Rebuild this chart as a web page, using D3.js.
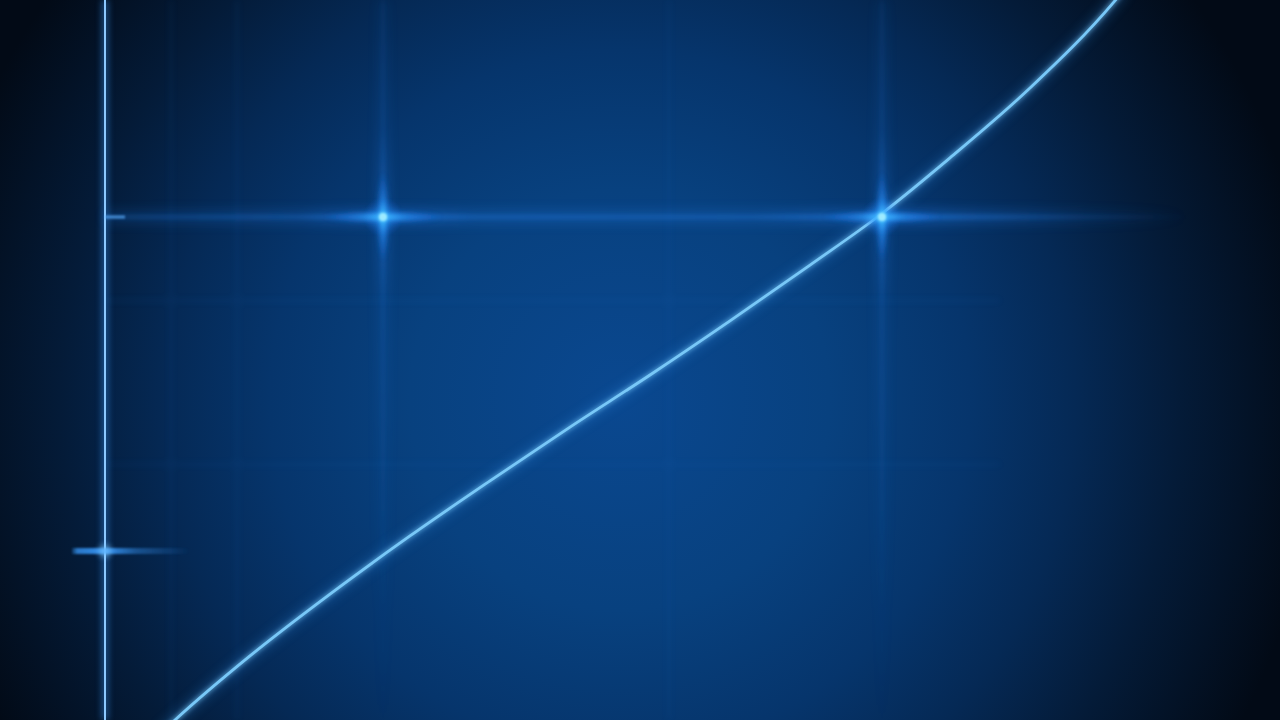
<!DOCTYPE html>
<html><head><meta charset="utf-8">
<script src="https://cdn.jsdelivr.net/npm/d3@7"></script>
<style>html,body{margin:0;padding:0;background:#020a16;overflow:hidden}svg{display:block}</style>
</head><body><svg id="c" width="1280" height="720"></svg>
<script>
// ---- data ----
const curveX = [0.55, 0.70, 1.45, 2.25, 3.05, 3.85, 4.65, 5.45, 6.25, 7.05, 7.75, 8.45, 9.25, 10.09, 10.19];
const curveY = [0.452, 0.494, 0.686, 0.871, 1.045, 1.210, 1.371, 1.527, 1.689, 1.856, 2.006, 2.177, 2.386, 2.644, 2.680];
const levelValues = [1, 2];          // tick levels on the vertical axis
const markerX = [2.78, 7.77];        // vertical reference lines
const markerY = 2;                   // horizontal reference line
const faintGridX = [0.66, 1.32, 5.64];
const faintGridY = [1.26, 1.75];

const W = 1280, H = 720;
const svg = d3.select("#c");
const x = d3.scaleLinear().domain([0, 10]).range([105, 1105]);
const y = d3.scaleLinear().domain([1, 2]).range([551, 217]);

const defs = svg.append("defs");
const bg = defs.append("radialGradient").attr("id", "bg")
  .attr("gradientUnits", "userSpaceOnUse").attr("cx", 620).attr("cy", 400).attr("r", 700);
[[0, "#0a4890"], [0.3, "#08417f"], [0.5, "#06356c"], [0.65, "#052955"], [0.8, "#041b38"], [1, "#020a16"]]
  .forEach(([o, c]) => bg.append("stop").attr("offset", o).attr("stop-color", c));

function blurFilter(id, sd) {
  const f = defs.append("filter").attr("id", id).attr("filterUnits", "userSpaceOnUse")
    .attr("x", -50).attr("y", -50).attr("width", W + 100).attr("height", H + 100);
  f.append("feGaussianBlur").attr("stdDeviation", sd);
}
blurFilter("b1", 1.2); blurFilter("b2", 2); blurFilter("b3", 3); blurFilter("b6", 6); blurFilter("b12", 12);

const glow = defs.append("filter").attr("id", "glow").attr("filterUnits", "userSpaceOnUse")
  .attr("x", -50).attr("y", -50).attr("width", W + 100).attr("height", H + 100);
glow.append("feGaussianBlur").attr("in", "SourceGraphic").attr("stdDeviation", 2.5).attr("result", "bl");
const gm = glow.append("feMerge");
gm.append("feMergeNode").attr("in", "bl");
gm.append("feMergeNode").attr("in", "SourceGraphic");

// horizontal gradient for the reference line
const hg = defs.append("linearGradient").attr("id", "hg").attr("gradientUnits", "userSpaceOnUse")
  .attr("x1", x(0)).attr("x2", 1190).attr("y1", 0).attr("y2", 0);
[[0, 0.35], [0.18, 0.45], [0.26, 1], [0.34, 0.5], [0.6, 0.45], [0.7, 0.8], [0.72, 1], [0.8, 0.6], [0.9, 0.25], [1, 0]]
  .forEach(([o, a]) => hg.append("stop").attr("offset", o).attr("stop-color", "#2a8cff").attr("stop-opacity", a));

const tg = defs.append("linearGradient").attr("id", "tg").attr("gradientUnits", "userSpaceOnUse")
  .attr("x1", 70).attr("x2", 190).attr("y1", 0).attr("y2", 0);
[[0, 0], [0.06, 0.8], [0.3, 1], [0.55, 0.45], [1, 0]]
  .forEach(([o, a]) => tg.append("stop").attr("offset", o).attr("stop-color", "#3a9cff").attr("stop-opacity", a));

const vg = defs.append("linearGradient").attr("id", "vg").attr("gradientUnits", "userSpaceOnUse")
  .attr("x1", 0).attr("x2", 0).attr("y1", 0).attr("y2", H);
[[0, 0.2], [0.18, 0.35], [0.3, 1], [0.42, 0.35], [0.7, 0.18], [0.85, 0.06], [1, 0.02]]
  .forEach(([o, a]) => vg.append("stop").attr("offset", o).attr("stop-color", "#2a8cff").attr("stop-opacity", a));

const fr = defs.append("radialGradient").attr("id", "flare");
[[0, "#d8f8ff", 1], [0.12, "#4fd2ff", 0.95], [0.4, "#2a9cff", 0.5], [1, "#1a70ff", 0]]
  .forEach(([o, c, a]) => fr.append("stop").attr("offset", o).attr("stop-color", c).attr("stop-opacity", a));

// ---- background ----
svg.append("rect").attr("width", W).attr("height", H).attr("fill", "url(#bg)");

// faint grid
const grid = svg.append("g").attr("opacity", 0.1);
grid.selectAll("line.gx").data(faintGridX).join("line")
  .attr("x1", d => x(d)).attr("x2", d => x(d)).attr("y1", 0).attr("y2", H)
  .attr("stroke", "#2a7ad8").attr("stroke-width", 3).attr("filter", "url(#b3)");
grid.selectAll("line.gy").data(faintGridY).join("line")
  .attr("x1", x(0)).attr("x2", 1000).attr("y1", d => y(d)).attr("y2", d => y(d))
  .attr("stroke", "#2a7ad8").attr("stroke-width", 3).attr("filter", "url(#b3)");

// vertical reference lines
const vref = svg.append("g");
vref.selectAll("line.w").data(markerX).join("line")
  .attr("x1", d => x(d)).attr("x2", d => x(d)).attr("y1", 0).attr("y2", H)
  .attr("stroke", "url(#vg)").attr("stroke-width", 12).attr("opacity", 0.3).attr("filter", "url(#b6)");
vref.selectAll("line.n").data(markerX).join("line")
  .attr("x1", d => x(d)).attr("x2", d => x(d)).attr("y1", 0).attr("y2", H)
  .attr("stroke", "url(#vg)").attr("stroke-width", 3).attr("opacity", 0.35).attr("filter", "url(#b2)");

// horizontal reference line
svg.append("line").attr("x1", x(0)).attr("x2", 1190).attr("y1", y(markerY)).attr("y2", y(markerY))
  .attr("stroke", "url(#hg)").attr("stroke-width", 14).attr("opacity", 0.4).attr("filter", "url(#b6)");
svg.append("line").attr("x1", x(0)).attr("x2", 1190).attr("y1", y(markerY)).attr("y2", y(markerY))
  .attr("stroke", "url(#hg)").attr("stroke-width", 4).attr("opacity", 0.5).attr("filter", "url(#b2)");

// ---- vertical axis ----
const axis = svg.append("g");
axis.append("line").attr("x1", x(0)).attr("x2", x(0)).attr("y1", 0).attr("y2", H)
  .attr("stroke", "#3d9bff").attr("stroke-width", 7).attr("opacity", 0.4).attr("filter", "url(#b3)");
axis.append("line").attr("x1", x(0)).attr("x2", x(0)).attr("y1", 0).attr("y2", H)
  .attr("stroke", "#8cc8ff").attr("stroke-width", 2);
// ticks
axis.append("line").attr("x1", 72).attr("x2", 190).attr("y1", y(levelValues[0])).attr("y2", y(levelValues[0]))
  .attr("stroke", "url(#tg)").attr("stroke-width", 6).attr("opacity", 0.9).attr("filter", "url(#b1)");
axis.append("circle").attr("cx", x(0)).attr("cy", y(levelValues[0])).attr("r", 6)
  .attr("fill", "#7cc8ff").attr("opacity", 0.7).attr("filter", "url(#b3)");
axis.append("line").attr("x1", x(0)).attr("x2", x(0) + 20).attr("y1", y(levelValues[1])).attr("y2", y(levelValues[1]))
  .attr("stroke", "#5aaeff").attr("stroke-width", 3).attr("opacity", 0.7).attr("filter", "url(#b1)");

// ---- curve ----
const pts = curveX.map((d, i) => [d, curveY[i]]);
const line = d3.line().x(d => x(d[0])).y(d => y(d[1])).curve(d3.curveMonotoneX);
svg.append("path").datum(pts).attr("d", line).attr("fill", "none")
  .attr("stroke", "#3aa0ff").attr("stroke-width", 12).attr("opacity", 0.22).attr("filter", "url(#b6)");
svg.append("path").datum(pts).attr("d", line).attr("fill", "none")
  .attr("stroke", "#78c8f8").attr("stroke-width", 2.8).attr("filter", "url(#glow)");

// ---- flares ----
const fl = svg.append("g");
markerX.forEach(mx => {
  const cx = x(mx), cy = y(markerY);
  fl.append("ellipse").attr("cx", cx).attr("cy", cy).attr("rx", 60).attr("ry", 7)
    .attr("fill", "url(#flare)").attr("filter", "url(#b2)");
  fl.append("ellipse").attr("cx", cx).attr("cy", cy).attr("rx", 7).attr("ry", 45)
    .attr("fill", "url(#flare)").attr("filter", "url(#b2)");
  fl.append("circle").attr("cx", cx).attr("cy", cy).attr("r", 20)
    .attr("fill", "url(#flare)").attr("opacity", 0.6);
  fl.append("circle").attr("cx", cx).attr("cy", cy).attr("r", 4)
    .attr("fill", "#9eeaff").attr("filter", "url(#b1)");
});
</script>
</body></html>
